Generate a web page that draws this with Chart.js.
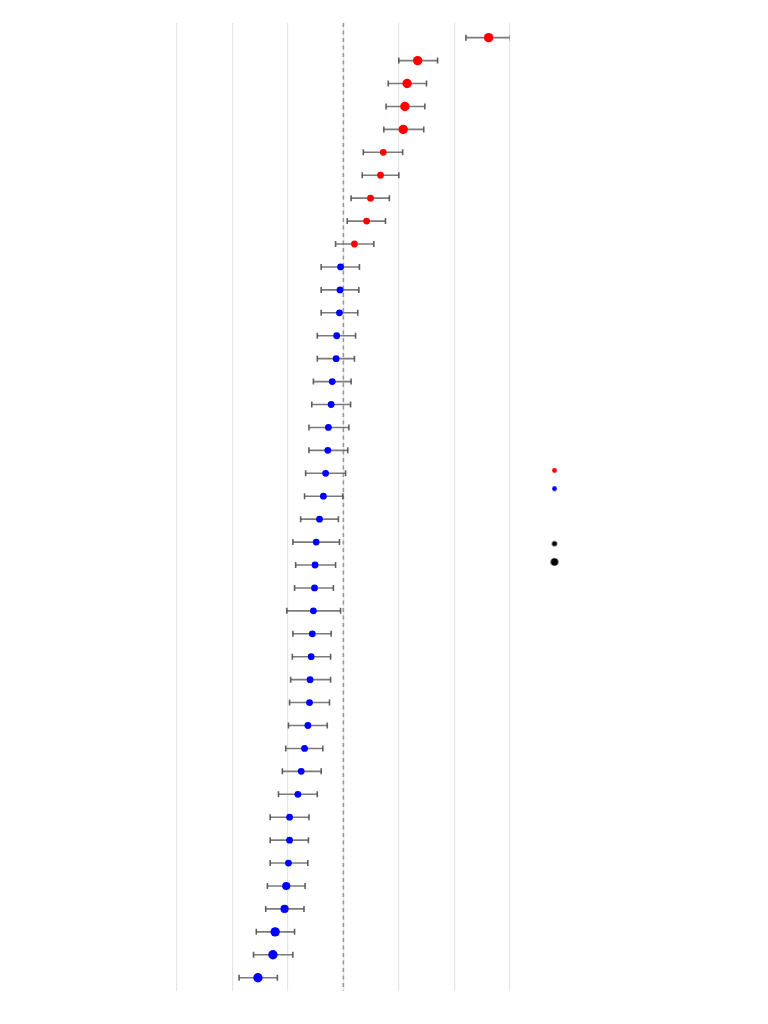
<!DOCTYPE html>
<html>
<head>
<meta charset="utf-8">
<style>
  html, body { margin: 0; padding: 0; background: #ffffff; }
  #c { display: block; }
</style>
<script src="https://cdn.jsdelivr.net/npm/chart.js@4.4.1/dist/chart.umd.min.js"></script>
</head>
<body>
<canvas id="c" width="768" height="1024"></canvas>
<script>
// ---- Data ----
const estimates = [
  2.62, 1.34, 1.15, 1.11, 1.08, 0.72, 0.67, 0.49, 0.42, 0.20,
  -0.05, -0.06, -0.07, -0.12, -0.13, -0.20, -0.22, -0.27, -0.28, -0.32,
  -0.36, -0.43, -0.49, -0.51, -0.52, -0.54, -0.56, -0.58, -0.60, -0.61,
  -0.64, -0.70, -0.76, -0.82, -0.97, -0.97, -0.99, -1.03, -1.06, -1.23,
  -1.27, -1.54
];
const lowerCI = [
  2.21, 1.00, 0.81, 0.77, 0.73, 0.36, 0.34, 0.14, 0.07, -0.14,
  -0.40, -0.40, -0.40, -0.47, -0.47, -0.54, -0.57, -0.62, -0.62, -0.68,
  -0.70, -0.77, -0.91, -0.86, -0.88, -1.02, -0.91, -0.92, -0.95, -0.97,
  -0.99, -1.04, -1.10, -1.17, -1.32, -1.32, -1.32, -1.37, -1.40, -1.57,
  -1.62, -1.88
];
const upperCI = [
  3.01, 1.70, 1.50, 1.47, 1.45, 1.07, 1.00, 0.83, 0.76, 0.55,
  0.29, 0.28, 0.26, 0.22, 0.20, 0.14, 0.13, 0.10, 0.08, 0.04,
  -0.01, -0.09, -0.07, -0.14, -0.18, -0.05, -0.22, -0.23, -0.23, -0.25,
  -0.29, -0.37, -0.40, -0.47, -0.62, -0.63, -0.64, -0.69, -0.71, -0.88,
  -0.91, -1.19
];
// group: 1 = positive (red), 0 = negative (blue)
const groups = [
  1,1,1,1,1,1,1,1,1,1,
  0,0,0,0,0,0,0,0,0,0,
  0,0,0,0,0,0,0,0,0,0,
  0,0,0,0,0,0,0,0,0,0,
  0,0
];
// size class: 0 = small, 1 = medium, 2 = large
const sizeClass = [
  2,2,2,2,2,0,0,0,0,0,
  0,0,0,0,0,0,0,0,0,0,
  0,0,0,0,0,0,0,0,0,0,
  0,0,0,0,0,0,0,1,1,2,
  2,2
];
const referenceValue = [0];
const xTicks = [-3, -2, -1, 0, 1, 2, 3];

// ---- Styles ----
const groupColors = ['#0000ff', '#ff0000'];
const sizeRadius = [3.4, 4.1, 4.7];

const n = estimates.length;
const yMin = -0.64, yMax = n - 1 + 0.58;
const pointData = estimates.map((v, i) => ({ x: v, y: i }));
const ciData = [];
for (let i = 0; i < n; i++) {
  ciData.push({ x: lowerCI[i], y: i });
  ciData.push({ x: upperCI[i], y: i });
  ciData.push({ x: null, y: i });
}
const refData = [];
referenceValue.forEach(v => { refData.push({ x: v, y: yMin }); refData.push({ x: v, y: yMax }); });

function dot(r, color) {
  const s = Math.ceil(2 * r + 2);
  const c = document.createElement('canvas');
  c.width = s; c.height = s;
  const g = c.getContext('2d');
  if (color) {
    g.fillStyle = color;
    g.beginPath();
    g.arc(s / 2, s / 2, r, 0, Math.PI * 2);
    g.fill();
  }
  return c;
}

const legendEntries = [
  { style: dot(1, null) },
  { style: dot(2.4, '#ff0000') },
  { style: dot(2.4, '#0000ff') },
  { style: dot(1, null) },
  { style: dot(1, null) },
  { style: dot(2.6, '#000000') },
  { style: dot(3.8, '#000000') }
];

new Chart(document.getElementById('c'), {
  type: 'scatter',
  data: {
    datasets: [
      {
        label: 'estimate',
        data: pointData,
        backgroundColor: groups.map(g => groupColors[g]),
        borderWidth: 0,
        pointRadius: sizeClass.map(s => sizeRadius[s]),
        pointHoverRadius: sizeClass.map(s => sizeRadius[s]),
        order: 1
      },
      {
        label: 'ci',
        type: 'line',
        data: ciData,
        showLine: true,
        spanGaps: false,
        borderColor: 'rgba(100,100,100,0.85)',
        borderWidth: 1.6,
        pointStyle: 'line',
        rotation: 90,
        pointRadius: 3,
        pointBorderWidth: 1.6,
        pointBorderColor: 'rgba(80,80,80,0.9)',
        fill: false,
        order: 2
      },
      {
        label: 'ref',
        type: 'line',
        data: refData,
        showLine: true,
        borderColor: '#9a9a9a',
        borderWidth: 1.6,
        borderDash: [4, 3.5],
        pointRadius: 0,
        fill: false,
        order: 3
      }
    ]
  },
  options: {
    responsive: false,
    animation: false,
    devicePixelRatio: 1,
    layout: { padding: { left: 177, right: 159, top: 23, bottom: 33 } },
    scales: {
      x: {
        type: 'linear',
        min: xTicks[0],
        max: xTicks[xTicks.length - 1],
        afterBuildTicks: (axis) => { axis.ticks = xTicks.map(v => ({ value: v })); },
        ticks: { display: false },
        grid: { color: '#e6e6e6', lineWidth: 1.2, drawTicks: false },
        border: { display: false }
      },
      y: {
        type: 'linear',
        reverse: true,
        min: yMin,
        max: yMax,
        display: false,
        grid: { display: false }
      }
    },
    plugins: {
      tooltip: { enabled: false },
      legend: {
        display: true,
        position: 'right',
        align: 'center',
        onClick: null,
        labels: {
          usePointStyle: true,
          pointStyleWidth: 77,
          padding: 6.3,
          font: { size: 12, family: 'DejaVu Sans' },
          generateLabels: () => legendEntries.map(e => ({
            text: '',
            fillStyle: 'rgba(0,0,0,0)',
            strokeStyle: 'rgba(0,0,0,0)',
            lineWidth: 0,
            pointStyle: e.style,
            hidden: false
          }))
        }
      }
    }
  }
});
</script>
</body>
</html>
